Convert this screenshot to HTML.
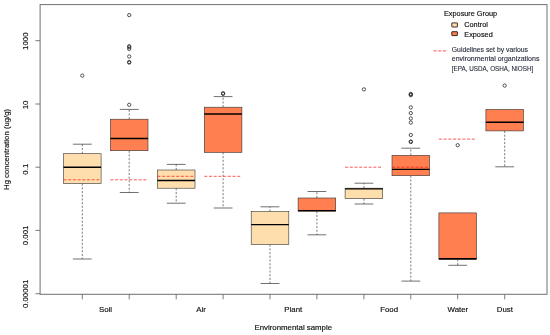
<!DOCTYPE html>
<html lang="en"><head><meta charset="utf-8"><title>Hg concentration by environmental sample</title>
<style>html,body{margin:0;padding:0;background:#fff}body{width:550px;height:335px;overflow:hidden}text{stroke:#111;stroke-width:.16px}</style></head>
<body>
<svg width="550" height="335" viewBox="0 0 550 335" style="display:block" font-family="'Liberation Sans', Arial, sans-serif" font-size="7.85" fill="#111">
<rect width="550" height="335" fill="#fff" stroke="none"/>
<g><line x1="82.3" y1="153.7" x2="82.3" y2="144.2" stroke="#444" stroke-width="0.7" stroke-dasharray="2.1 1.6"/><line x1="72.9" y1="144.2" x2="91.7" y2="144.2" stroke="#333" stroke-width="0.7"/><line x1="82.3" y1="183.6" x2="82.3" y2="259.0" stroke="#444" stroke-width="0.7" stroke-dasharray="2.1 1.6"/><line x1="72.9" y1="259.0" x2="91.7" y2="259.0" stroke="#333" stroke-width="0.7"/><rect x="63.5" y="153.7" width="37.6" height="29.9" fill="#FFDEAD" stroke="#333" stroke-width="0.6"/><line x1="63.5" y1="167.2" x2="101.1" y2="167.2" stroke="#000" stroke-width="1.4"/><circle cx="82.3" cy="75.6" r="1.65" fill="none" stroke="#2a2a2a" stroke-width="0.8"/><line x1="63.5" y1="179.8" x2="101.1" y2="179.8" stroke="#ff1010" stroke-width="0.7" stroke-dasharray="3 1.7"/></g>
<g><line x1="129.2" y1="119.2" x2="129.2" y2="109.4" stroke="#444" stroke-width="0.7" stroke-dasharray="2.1 1.6"/><line x1="119.8" y1="109.4" x2="138.6" y2="109.4" stroke="#333" stroke-width="0.7"/><line x1="129.2" y1="150.7" x2="129.2" y2="192.5" stroke="#444" stroke-width="0.7" stroke-dasharray="2.1 1.6"/><line x1="119.8" y1="192.5" x2="138.6" y2="192.5" stroke="#333" stroke-width="0.7"/><rect x="110.4" y="119.2" width="37.6" height="31.5" fill="#FF7F50" stroke="#333" stroke-width="0.6"/><line x1="110.4" y1="138.5" x2="148.0" y2="138.5" stroke="#000" stroke-width="1.4"/><circle cx="129.2" cy="15.1" r="1.65" fill="none" stroke="#2a2a2a" stroke-width="0.8"/><circle cx="129.2" cy="46.2" r="1.65" fill="none" stroke="#2a2a2a" stroke-width="0.8"/><circle cx="129.2" cy="47.2" r="1.65" fill="none" stroke="#2a2a2a" stroke-width="0.8"/><circle cx="129.2" cy="48.9" r="1.65" fill="none" stroke="#2a2a2a" stroke-width="0.8"/><circle cx="129.2" cy="56.5" r="1.65" fill="none" stroke="#2a2a2a" stroke-width="0.8"/><circle cx="129.2" cy="62.0" r="1.65" fill="none" stroke="#2a2a2a" stroke-width="0.8"/><circle cx="129.2" cy="62.6" r="1.65" fill="none" stroke="#2a2a2a" stroke-width="0.8"/><circle cx="129.2" cy="104.8" r="1.65" fill="none" stroke="#2a2a2a" stroke-width="0.8"/><line x1="110.4" y1="179.8" x2="148.0" y2="179.8" stroke="#ff1010" stroke-width="0.7" stroke-dasharray="3 1.7"/></g>
<g><line x1="176.2" y1="170.0" x2="176.2" y2="164.4" stroke="#444" stroke-width="0.7" stroke-dasharray="2.1 1.6"/><line x1="166.8" y1="164.4" x2="185.6" y2="164.4" stroke="#333" stroke-width="0.7"/><line x1="176.2" y1="188.2" x2="176.2" y2="203.2" stroke="#444" stroke-width="0.7" stroke-dasharray="2.1 1.6"/><line x1="166.8" y1="203.2" x2="185.6" y2="203.2" stroke="#333" stroke-width="0.7"/><rect x="157.4" y="170.0" width="37.6" height="18.2" fill="#FFDEAD" stroke="#333" stroke-width="0.6"/><line x1="157.4" y1="180.5" x2="195.0" y2="180.5" stroke="#000" stroke-width="1.4"/><line x1="157.4" y1="176.3" x2="195.0" y2="176.3" stroke="#ff1010" stroke-width="0.7" stroke-dasharray="3 1.7"/></g>
<g><line x1="223.1" y1="107.2" x2="223.1" y2="96.6" stroke="#444" stroke-width="0.7" stroke-dasharray="2.1 1.6"/><line x1="213.7" y1="96.6" x2="232.5" y2="96.6" stroke="#333" stroke-width="0.7"/><line x1="223.1" y1="152.4" x2="223.1" y2="208.0" stroke="#444" stroke-width="0.7" stroke-dasharray="2.1 1.6"/><line x1="213.7" y1="208.0" x2="232.5" y2="208.0" stroke="#333" stroke-width="0.7"/><rect x="204.3" y="107.2" width="37.6" height="45.2" fill="#FF7F50" stroke="#333" stroke-width="0.6"/><line x1="204.3" y1="114.0" x2="241.9" y2="114.0" stroke="#000" stroke-width="1.4"/><circle cx="223.1" cy="93.2" r="1.65" fill="none" stroke="#2a2a2a" stroke-width="0.8"/><circle cx="223.1" cy="93.9" r="1.65" fill="none" stroke="#2a2a2a" stroke-width="0.8"/><line x1="204.3" y1="176.3" x2="241.9" y2="176.3" stroke="#ff1010" stroke-width="0.7" stroke-dasharray="3 1.7"/></g>
<g><line x1="270.0" y1="211.6" x2="270.0" y2="206.8" stroke="#444" stroke-width="0.7" stroke-dasharray="2.1 1.6"/><line x1="260.6" y1="206.8" x2="279.4" y2="206.8" stroke="#333" stroke-width="0.7"/><line x1="270.0" y1="244.6" x2="270.0" y2="283.5" stroke="#444" stroke-width="0.7" stroke-dasharray="2.1 1.6"/><line x1="260.6" y1="283.5" x2="279.4" y2="283.5" stroke="#333" stroke-width="0.7"/><rect x="251.2" y="211.6" width="37.6" height="33.0" fill="#FFDEAD" stroke="#333" stroke-width="0.6"/><line x1="251.2" y1="224.6" x2="288.8" y2="224.6" stroke="#000" stroke-width="1.4"/></g>
<g><line x1="316.9" y1="198.0" x2="316.9" y2="191.5" stroke="#444" stroke-width="0.7" stroke-dasharray="2.1 1.6"/><line x1="307.6" y1="191.5" x2="326.3" y2="191.5" stroke="#333" stroke-width="0.7"/><line x1="316.9" y1="211.2" x2="316.9" y2="234.8" stroke="#444" stroke-width="0.7" stroke-dasharray="2.1 1.6"/><line x1="307.6" y1="234.8" x2="326.3" y2="234.8" stroke="#333" stroke-width="0.7"/><rect x="298.1" y="198.0" width="37.6" height="13.2" fill="#FF7F50" stroke="#333" stroke-width="0.6"/><line x1="298.1" y1="210.6" x2="335.8" y2="210.6" stroke="#000" stroke-width="1.4"/></g>
<g><line x1="363.9" y1="188.2" x2="363.9" y2="183.2" stroke="#444" stroke-width="0.7" stroke-dasharray="2.1 1.6"/><line x1="354.5" y1="183.2" x2="373.3" y2="183.2" stroke="#333" stroke-width="0.7"/><line x1="363.9" y1="198.6" x2="363.9" y2="204.0" stroke="#444" stroke-width="0.7" stroke-dasharray="2.1 1.6"/><line x1="354.5" y1="204.0" x2="373.3" y2="204.0" stroke="#333" stroke-width="0.7"/><rect x="345.1" y="188.2" width="37.6" height="10.4" fill="#FFDEAD" stroke="#333" stroke-width="0.6"/><line x1="345.1" y1="188.9" x2="382.7" y2="188.9" stroke="#000" stroke-width="1.4"/><circle cx="363.9" cy="89.4" r="1.65" fill="none" stroke="#2a2a2a" stroke-width="0.8"/><line x1="345.1" y1="167.2" x2="382.7" y2="167.2" stroke="#ff1010" stroke-width="0.7" stroke-dasharray="3 1.7"/></g>
<g><line x1="410.8" y1="155.3" x2="410.8" y2="148.2" stroke="#444" stroke-width="0.7" stroke-dasharray="2.1 1.6"/><line x1="401.4" y1="148.2" x2="420.2" y2="148.2" stroke="#333" stroke-width="0.7"/><line x1="410.8" y1="175.7" x2="410.8" y2="281.1" stroke="#444" stroke-width="0.7" stroke-dasharray="2.1 1.6"/><line x1="401.4" y1="281.1" x2="420.2" y2="281.1" stroke="#333" stroke-width="0.7"/><rect x="392.0" y="155.3" width="37.6" height="20.4" fill="#FF7F50" stroke="#333" stroke-width="0.6"/><line x1="392.0" y1="169.4" x2="429.6" y2="169.4" stroke="#000" stroke-width="1.4"/><circle cx="410.8" cy="93.9" r="1.65" fill="none" stroke="#2a2a2a" stroke-width="0.8"/><circle cx="410.8" cy="94.5" r="1.65" fill="none" stroke="#2a2a2a" stroke-width="0.8"/><circle cx="410.8" cy="95.2" r="1.65" fill="none" stroke="#2a2a2a" stroke-width="0.8"/><circle cx="410.8" cy="107.4" r="1.65" fill="none" stroke="#2a2a2a" stroke-width="0.8"/><circle cx="410.8" cy="113.1" r="1.65" fill="none" stroke="#2a2a2a" stroke-width="0.8"/><circle cx="410.8" cy="118.5" r="1.65" fill="none" stroke="#2a2a2a" stroke-width="0.8"/><circle cx="410.8" cy="122.6" r="1.65" fill="none" stroke="#2a2a2a" stroke-width="0.8"/><circle cx="410.8" cy="135.0" r="1.65" fill="none" stroke="#2a2a2a" stroke-width="0.8"/><circle cx="410.8" cy="141.5" r="1.65" fill="none" stroke="#2a2a2a" stroke-width="0.8"/><circle cx="410.8" cy="142.0" r="1.65" fill="none" stroke="#2a2a2a" stroke-width="0.8"/><line x1="392.0" y1="167.2" x2="429.6" y2="167.2" stroke="#ff1010" stroke-width="0.7" stroke-dasharray="3 1.7"/></g>
<g><line x1="457.7" y1="259.4" x2="457.7" y2="265.3" stroke="#444" stroke-width="0.7" stroke-dasharray="2.1 1.6"/><line x1="448.3" y1="265.3" x2="467.1" y2="265.3" stroke="#333" stroke-width="0.7"/><rect x="438.9" y="212.9" width="37.6" height="46.5" fill="#FF7F50" stroke="#333" stroke-width="0.6"/><line x1="438.9" y1="258.8" x2="476.5" y2="258.8" stroke="#000" stroke-width="1.4"/><circle cx="457.7" cy="145.2" r="1.65" fill="none" stroke="#2a2a2a" stroke-width="0.8"/><line x1="438.9" y1="139.1" x2="476.5" y2="139.1" stroke="#ff1010" stroke-width="0.7" stroke-dasharray="3 1.7"/></g>
<g><line x1="504.7" y1="130.9" x2="504.7" y2="166.8" stroke="#444" stroke-width="0.7" stroke-dasharray="2.1 1.6"/><line x1="495.3" y1="166.8" x2="514.1" y2="166.8" stroke="#333" stroke-width="0.7"/><rect x="485.9" y="109.4" width="37.6" height="21.5" fill="#FF7F50" stroke="#333" stroke-width="0.6"/><line x1="485.9" y1="122.3" x2="523.5" y2="122.3" stroke="#000" stroke-width="1.4"/><circle cx="504.7" cy="85.6" r="1.65" fill="none" stroke="#2a2a2a" stroke-width="0.8"/></g>
<rect x="40.1" y="4.6" width="506.9" height="289.7" fill="none" stroke="#707070" stroke-width="1"/>
<line x1="35.4" y1="40.7" x2="40.1" y2="40.7" stroke="#5a5a5a" stroke-width="0.8"/>
<text transform="translate(27.7 41.2) rotate(-90)" text-anchor="middle">1000</text>
<line x1="35.4" y1="104.0" x2="40.1" y2="104.0" stroke="#5a5a5a" stroke-width="0.8"/>
<text transform="translate(27.9 105.0) rotate(-90)" text-anchor="middle">10</text>
<line x1="35.4" y1="167.2" x2="40.1" y2="167.2" stroke="#5a5a5a" stroke-width="0.8"/>
<text transform="translate(28.2 169.2) rotate(-90)" text-anchor="middle">0.1</text>
<line x1="35.4" y1="230.4" x2="40.1" y2="230.4" stroke="#5a5a5a" stroke-width="0.8"/>
<text transform="translate(28.2 235.4) rotate(-90)" text-anchor="middle">0.001</text>
<line x1="35.4" y1="293.7" x2="40.1" y2="293.7" stroke="#5a5a5a" stroke-width="0.8"/>
<text transform="translate(28.1 293.9) rotate(-90)" text-anchor="middle">0.00001</text>
<line x1="82.3" y1="294.3" x2="82.3" y2="299.3" stroke="#5a5a5a" stroke-width="0.8"/>
<line x1="129.2" y1="294.3" x2="129.2" y2="299.3" stroke="#5a5a5a" stroke-width="0.8"/>
<line x1="176.2" y1="294.3" x2="176.2" y2="299.3" stroke="#5a5a5a" stroke-width="0.8"/>
<line x1="223.1" y1="294.3" x2="223.1" y2="299.3" stroke="#5a5a5a" stroke-width="0.8"/>
<line x1="270.0" y1="294.3" x2="270.0" y2="299.3" stroke="#5a5a5a" stroke-width="0.8"/>
<line x1="316.9" y1="294.3" x2="316.9" y2="299.3" stroke="#5a5a5a" stroke-width="0.8"/>
<line x1="363.9" y1="294.3" x2="363.9" y2="299.3" stroke="#5a5a5a" stroke-width="0.8"/>
<line x1="410.8" y1="294.3" x2="410.8" y2="299.3" stroke="#5a5a5a" stroke-width="0.8"/>
<line x1="457.7" y1="294.3" x2="457.7" y2="299.3" stroke="#5a5a5a" stroke-width="0.8"/>
<line x1="504.7" y1="294.3" x2="504.7" y2="299.3" stroke="#5a5a5a" stroke-width="0.8"/>
<text x="105.5" y="311.5" text-anchor="middle">Soil</text>
<text x="201.1" y="311.5" text-anchor="middle">Air</text>
<text x="293.3" y="311.5" text-anchor="middle">Plant</text>
<text x="389.1" y="311.5" text-anchor="middle">Food</text>
<text x="457.9" y="311.5" text-anchor="middle">Water</text>
<text x="504.8" y="311.5" text-anchor="middle">Dust</text>
<text x="293.3" y="330.3" text-anchor="middle">Environmental sample</text>
<text transform="translate(9.2 149.4) rotate(-90)" text-anchor="middle" font-size="7.78">Hg concentration (ug/g)</text>
<text x="444" y="15.6" font-size="7.3">Exposure Group</text>
<rect x="451.8" y="22.9" width="5.6" height="4.1" rx="0.3" fill="#FFDEAD" stroke="#2a1a10" stroke-width="0.9"/>
<rect x="451.8" y="31.7" width="5.6" height="3.9" rx="0.3" fill="#FF7F50" stroke="#2a1a10" stroke-width="0.9"/>
<text x="464.3" y="27.2" font-size="7.3">Control</text>
<text x="464.3" y="36.6" font-size="7.3">Exposed</text>
<line x1="433.6" y1="50.9" x2="446" y2="50.9" stroke="#ff1010" stroke-width="0.7" stroke-dasharray="3.2 1.4"/>
<text x="451.8" y="52.2" font-size="6.6" fill="#1f2433" style="stroke:#1f2433;stroke-width:.1px" textLength="76.2" lengthAdjust="spacingAndGlyphs">Guidelines set by various</text>
<text x="451.8" y="60.8" font-size="6.6" fill="#1f2433" style="stroke:#1f2433;stroke-width:.1px" textLength="87.6" lengthAdjust="spacingAndGlyphs">environmental organizations</text>
<text x="451.8" y="70.8" font-size="6.6" fill="#1f2433" style="stroke:#1f2433;stroke-width:.1px" textLength="81.4" lengthAdjust="spacingAndGlyphs">[EPA, USDA, OSHA, NIOSH]</text>
</svg>
</body></html>
